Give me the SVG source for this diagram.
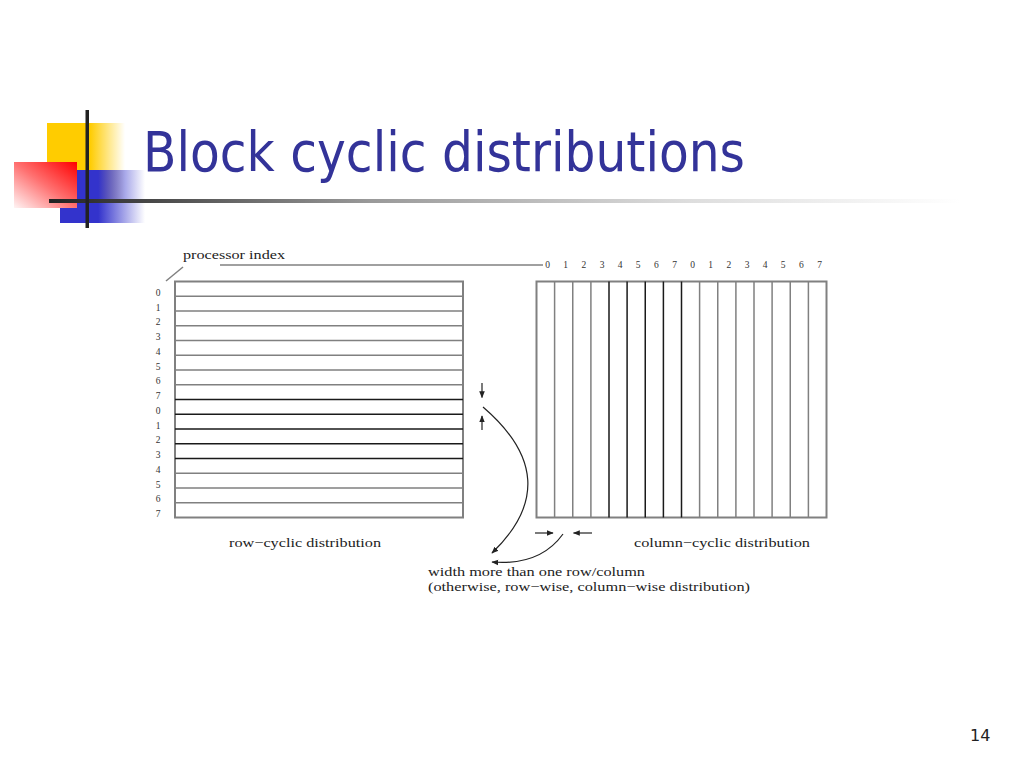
<svg xmlns="http://www.w3.org/2000/svg" width="1024" height="768" viewBox="0 0 1024 768">
<defs>
<linearGradient id="gYel" x1="0" y1="0" x2="1" y2="0"><stop offset="0" stop-color="#FFCC00"/><stop offset="0.55" stop-color="#FFCC00"/><stop offset="1" stop-color="#FFCC00" stop-opacity="0"/></linearGradient>
<linearGradient id="gBlue" x1="0" y1="0" x2="1" y2="0"><stop offset="0" stop-color="#3333CC"/><stop offset="0.45" stop-color="#3333CC"/><stop offset="1" stop-color="#3333CC" stop-opacity="0"/></linearGradient>
<linearGradient id="gRed" x1="1" y1="0" x2="0" y2="1"><stop offset="0" stop-color="#FF0000"/><stop offset="0.5" stop-color="#FF7070"/><stop offset="1" stop-color="#FFF4F4"/></linearGradient>
<linearGradient id="gRule" x1="0" y1="0" x2="1" y2="0"><stop offset="0" stop-color="#222222"/><stop offset="0.35" stop-color="#999999"/><stop offset="0.7" stop-color="#dddddd"/><stop offset="1" stop-color="#ffffff"/></linearGradient>
<marker id="ah" viewBox="0 0 10 10" refX="9" refY="5" markerWidth="7" markerHeight="7" markerUnits="userSpaceOnUse" orient="auto"><path d="M0,1 L10,5 L0,9 z" fill="#222"/></marker>
</defs>
<style>
.g{stroke:#808080;stroke-width:1.5;fill:none}
.d{stroke:#1a1a1a;stroke-width:1.5;fill:none}
.frame{stroke:#808080;stroke-width:2;fill:none}
.dig{font-family:"Liberation Serif",serif;font-size:9.5px;fill:#333;text-anchor:middle}
.lab{font-family:"Liberation Serif",serif;font-size:13px;fill:#222}
.con{stroke:#222;stroke-width:1.2;fill:none}
</style>
<rect width="1024" height="768" fill="#ffffff"/>
<g id="logo">
<rect x="47" y="123" width="78" height="77" fill="url(#gYel)"/>
<rect x="60" y="170" width="85" height="53" fill="url(#gBlue)"/>
<rect x="14" y="162" width="63" height="46" fill="url(#gRed)"/>
<rect x="49" y="199" width="912" height="4" fill="url(#gRule)"/>
<rect x="85.5" y="110" width="3.5" height="118" fill="#222"/>
</g>
<g id="title">
<text x="143" y="171" font-family="DejaVu Sans, sans-serif" font-size="56" fill="#333399" textLength="602" lengthAdjust="spacingAndGlyphs">Block cyclic distributions</text>
</g>
<g id="row-cyclic">
<rect class="frame" x="175" y="281.5" width="288" height="236"/>
<path class="g" d="M175,296.25H463M175,311H463M175,325.75H463M175,340.5H463M175,355.25H463M175,370H463M175,384.75H463"/>
<path class="d" d="M175,399.5H463M175,414.25H463M175,429H463M175,443.75H463M175,458.5H463"/>
<path class="g" d="M175,473.25H463M175,488H463M175,502.75H463"/>
<g class="dig">
<text x="158" y="295.9">0</text><text x="158" y="310.65">1</text><text x="158" y="325.4">2</text><text x="158" y="340.15">3</text>
<text x="158" y="354.9">4</text><text x="158" y="369.65">5</text><text x="158" y="384.4">6</text><text x="158" y="399.15">7</text>
<text x="158" y="413.9">0</text><text x="158" y="428.65">1</text><text x="158" y="443.4">2</text><text x="158" y="458.15">3</text>
<text x="158" y="472.9">4</text><text x="158" y="487.65">5</text><text x="158" y="502.4">6</text><text x="158" y="517.15">7</text>
</g>
<text class="lab" x="229" y="547" textLength="152" lengthAdjust="spacingAndGlyphs">row−cyclic distribution</text>
</g>
<g id="column-cyclic">
<rect class="frame" x="536.5" y="281.5" width="290" height="236"/>
<path class="g" d="M554.6,281.5V517.5M572.75,281.5V517.5M590.9,281.5V517.5"/>
<path class="d" d="M609,281.5V517.5M627.1,281.5V517.5M645.25,281.5V517.5M663.4,281.5V517.5M681.5,281.5V517.5"/>
<path class="g" d="M699.6,281.5V517.5M717.75,281.5V517.5M735.9,281.5V517.5M754,281.5V517.5M772.1,281.5V517.5M790.25,281.5V517.5M808.4,281.5V517.5"/>
<g class="dig">
<text x="547.6" y="267.5">0</text><text x="565.7" y="267.5">1</text><text x="583.9" y="267.5">2</text><text x="602" y="267.5">3</text>
<text x="620.1" y="267.5">4</text><text x="638.2" y="267.5">5</text><text x="656.4" y="267.5">6</text><text x="674.5" y="267.5">7</text>
<text x="692.6" y="267.5">0</text><text x="710.7" y="267.5">1</text><text x="728.9" y="267.5">2</text><text x="747" y="267.5">3</text>
<text x="765.1" y="267.5">4</text><text x="783.2" y="267.5">5</text><text x="801.4" y="267.5">6</text><text x="819.5" y="267.5">7</text>
</g>
<text class="lab" x="634" y="547" textLength="176" lengthAdjust="spacingAndGlyphs">column−cyclic distribution</text>
</g>
<g id="processor-index">
<text class="lab" x="183" y="259" textLength="102" lengthAdjust="spacingAndGlyphs">processor index</text>
</g>
<g id="note">
<text class="lab" x="428" y="576" textLength="217" lengthAdjust="spacingAndGlyphs">width more than one row/column</text>
<text class="lab" x="428" y="591" textLength="322" lengthAdjust="spacingAndGlyphs">(otherwise, row−wise, column−wise distribution)</text>
</g>
<g id="connectors">
<path class="g" d="M166,281 L183,267"/>
<path class="g" d="M220,265 H543"/>
<path class="con" d="M482,383 V397.5" marker-end="url(#ah)"/>
<path class="con" d="M482,430 V416" marker-end="url(#ah)"/>
<path class="con" d="M535,533 H553" marker-end="url(#ah)"/>
<path class="con" d="M592,533 H573.5" marker-end="url(#ah)"/>
<path class="con" d="M483,407 Q568,480 492,553" marker-end="url(#ah)"/>
<path class="con" d="M563,534 Q540,566 492,562" marker-end="url(#ah)"/>
</g>
<g id="page-number">
<text x="970" y="741" font-family="DejaVu Sans, sans-serif" font-size="16" fill="#222">14</text>
</g>
</svg>
